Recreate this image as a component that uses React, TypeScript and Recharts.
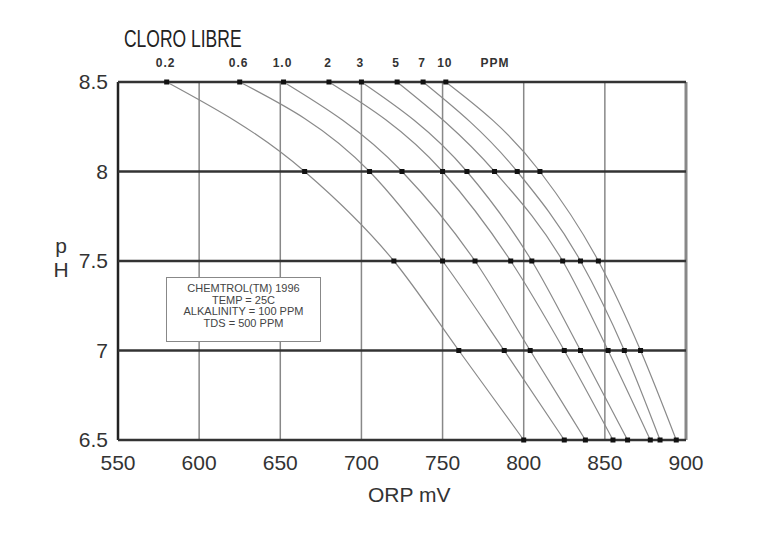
import {
  Line,
  LineChart,
  ReferenceLine,
  XAxis,
  YAxis,
} from "recharts";

// free chlorine curves, ORP (mV) read at each pH step
const phLevels = [8.5, 8, 7.5, 7, 6.5];
const ppmLabels = ["0.2", "0.6", "1.0", "2", "3", "5", "7", "10"];
const orp02 = [580, 665, 720, 760, 800];
const orp06 = [625, 705, 750, 788, 825];
const orp10 = [652, 725, 770, 804, 838];
const orp2 = [680, 750, 792, 825, 855];
const orp3 = [700, 765, 805, 835, 864];
const orp5 = [722, 782, 824, 852, 878];
const orp7 = [738, 796, 835, 862, 884];
const orp10ppm = [752, 810, 846, 872, 894];

const xTicks = [550, 600, 650, 700, 750, 800, 850, 900];
const yTicks = [6.5, 7, 7.5, 8, 8.5];
const ppmUnitX = 783;

const notes = [
  "CHEMTROL(TM) 1996",
  "TEMP = 25C",
  "ALKALINITY = 100 PPM",
  "TDS = 500 PPM",
];

const curves = [orp02, orp06, orp10, orp2, orp3, orp5, orp7, orp10ppm].map(
  (values, i) => ({
    name: ppmLabels[i],
    points: values.map((orp, j) => ({ orp, ph: phLevels[j] })),
  })
);

const topTicks = [...curves.map((c) => c.points[0].orp), ppmUnitX];
const topLabel = (v: number) => {
  const idx = curves.findIndex((c) => c.points[0].orp === v);
  return idx >= 0 ? ppmLabels[idx] : "PPM";
};

const font = "Arial, 'Liberation Sans', sans-serif";

const SquareDot = (props: any) => {
  const { cx, cy } = props;
  if (cx == null || cy == null) return null;
  return <rect x={cx - 2.5} y={cy - 2.5} width={5} height={5} fill="#111" />;
};

const BottomTick = (props: any) => {
  const { x, y, payload } = props;
  return (
    <text
      x={x}
      y={y + 22}
      textAnchor="middle"
      fontSize={21}
      fill="#333"
      fontFamily={font}
    >
      {payload.value}
    </text>
  );
};

const LeftTick = (props: any) => {
  const { x, y, payload } = props;
  return (
    <text
      x={x - 2}
      y={y + 7}
      textAnchor="end"
      fontSize={21}
      fill="#333"
      fontFamily={font}
    >
      {payload.value}
    </text>
  );
};

const TopTick = (props: any) => {
  const { x, y, payload } = props;
  return (
    <text
      x={x - 1}
      y={y - 7}
      textAnchor="middle"
      fontSize={12}
      fontWeight="bold"
      letterSpacing={1}
      fill="#333"
      fontFamily={font}
    >
      {topLabel(payload.value)}
    </text>
  );
};

export default function App() {
  return (
    <div
      style={{
        position: "absolute",
        left: 0,
        top: 0,
        width: 768,
        height: 543,
        background: "#fff",
        fontFamily: font,
      }}
    >
      <div
        style={{
          position: "absolute",
          left: 124,
          top: 25,
          fontSize: 23,
          color: "#222",
          lineHeight: "28px",
          whiteSpace: "nowrap",
          transform: "scaleX(0.76)",
          transformOrigin: "left center",
        }}
      >
        CLORO LIBRE
      </div>
      <div
        style={{
          position: "absolute",
          left: 51,
          top: 234,
          fontSize: 21,
          color: "#333",
          lineHeight: "24px",
          textAlign: "center",
          width: 20,
        }}
      >
        p
        <br />H
      </div>
      <div
        style={{
          position: "absolute",
          left: 368,
          top: 481,
          fontSize: 21,
          color: "#333",
          lineHeight: "28px",
        }}
      >
        ORP mV
      </div>
      <LineChart
        width={768}
        height={543}
        margin={{ top: 52, right: 82, bottom: 0, left: 0 }}
      >
        <XAxis
          xAxisId="bottom"
          type="number"
          dataKey="orp"
          domain={[550, 900]}
          ticks={xTicks}
          allowDataOverflow
          axisLine={false}
          tickLine={false}
          tick={<BottomTick />}
          height={103}
          interval={0}
        />
        <XAxis
          xAxisId="top"
          orientation="top"
          type="number"
          dataKey="orp"
          domain={[550, 900]}
          ticks={topTicks}
          allowDataOverflow
          axisLine={false}
          tickLine={false}
          tick={<TopTick />}
          height={30}
          interval={0}
        />
        <YAxis
          type="number"
          dataKey="ph"
          domain={[6.5, 8.5]}
          ticks={yTicks}
          axisLine={false}
          tickLine={false}
          tick={<LeftTick />}
          width={118}
          interval={0}
        />
        {xTicks.map((v) => (
          <ReferenceLine
            key={`x${v}`}
            xAxisId="bottom"
            x={v}
            stroke={v === 550 ? "#222" : "#888"}
            strokeWidth={v === 550 ? 2.5 : v === 900 ? 3 : 1.5}
          />
        ))}
        {yTicks.map((v) => (
          <ReferenceLine
            key={`y${v}`}
            xAxisId="bottom"
            y={v}
            stroke="#333"
            strokeWidth={2.5}
          />
        ))}
        {curves.map((c) => (
          <Line
            key={c.name}
            xAxisId="bottom"
            data={c.points}
            dataKey="ph"
            type="monotone"
            stroke="#8a8a8a"
            strokeWidth={1.2}
            dot={<SquareDot />}
            activeDot={false}
            isAnimationActive={false}
          />
        ))}
      </LineChart>
      <div
        style={{
          position: "absolute",
          left: 166,
          top: 277,
          width: 155,
          height: 65,
          border: "1px solid #888",
          background: "#fff",
          fontSize: 11,
          color: "#444",
          textAlign: "center",
          lineHeight: "11.7px",
          paddingTop: 5,
          boxSizing: "border-box",
        }}
      >
        {notes.map((n) => (
          <div key={n}>{n}</div>
        ))}
      </div>
    </div>
  );
}
